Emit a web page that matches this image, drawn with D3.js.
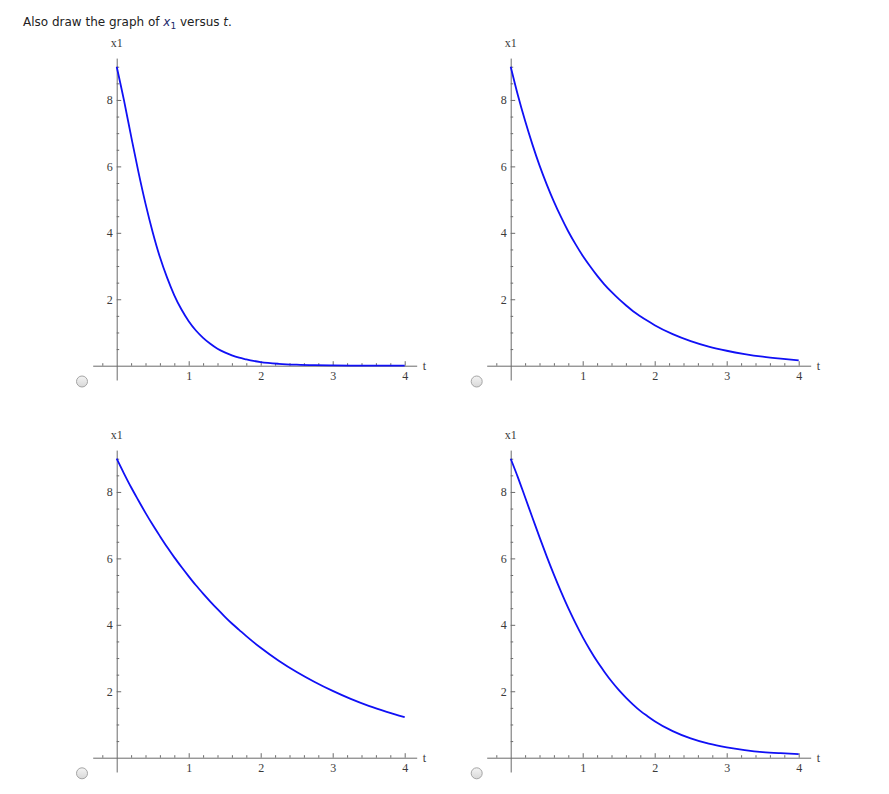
<!DOCTYPE html>
<html>
<head>
<meta charset="utf-8">
<script src="https://cdn.jsdelivr.net/npm/d3@7"></script>
<style>
  html, body { margin: 0; padding: 0; background: #fff; }
  svg { display: block; }
</style>
</head>
<body>
<svg id="chart" width="889" height="794"></svg>
<script>
// ---- data ----
const tValues = [0, 0.1, 0.2, 0.3, 0.4, 0.5, 0.6, 0.7, 0.8, 0.9, 1.0,
                 1.1, 1.2, 1.3, 1.4, 1.5, 1.6, 1.7, 1.8, 1.9, 2.0,
                 2.25, 2.5, 2.75, 3.0, 3.25, 3.5, 3.75, 4.0];
// top-left option
const x1OptionA = [9, 8.00, 6.91, 5.85, 4.88, 4.02, 3.27, 2.65, 2.12, 1.69, 1.34,
                   1.06, 0.84, 0.66, 0.51, 0.40, 0.31, 0.24, 0.19, 0.145, 0.11,
                   0.058, 0.03, 0.015, 0.008, 0.004, 0.002, 0.001, 0.0005];
// top-right option
const x1OptionB = [9, 8.14, 7.37, 6.67, 6.03, 5.46, 4.94, 4.47, 4.04, 3.66, 3.31,
                   3.00, 2.71, 2.45, 2.22, 2.01, 1.82, 1.64, 1.49, 1.35, 1.22,
                   0.95, 0.74, 0.575, 0.45, 0.35, 0.27, 0.21, 0.16];
// bottom-left option
const x1OptionC = [9, 8.56, 8.14, 7.75, 7.37, 7.01, 6.67, 6.34, 6.03, 5.74, 5.46,
                   5.19, 4.94, 4.70, 4.47, 4.25, 4.04, 3.85, 3.66, 3.48, 3.31,
                   2.92, 2.58, 2.28, 2.01, 1.77, 1.56, 1.38, 1.22];
// bottom-right option
const x1OptionD = [9, 8.44, 7.84, 7.24, 6.64, 6.06, 5.51, 4.99, 4.50, 4.05, 3.63,
                   3.25, 2.90, 2.59, 2.30, 2.04, 1.81, 1.60, 1.41, 1.25, 1.10,
                   0.80, 0.58, 0.42, 0.31, 0.23, 0.17, 0.135, 0.11];

const tMajorTicks = [1, 2, 3, 4];
const tMinorTicks = [-0.2, 0.2, 0.4, 0.6, 0.8, 1.2, 1.4, 1.6, 1.8, 2.2, 2.4, 2.6, 2.8,
                     3.2, 3.4, 3.6, 3.8];
const x1MajorTicks = [2, 4, 6, 8];
const x1MinorTicks = [0.5, 1, 1.5, 2.5, 3, 3.5, 4.5, 5, 5.5, 6.5, 7, 7.5, 8.5, 9];

const titleParts = ["Also draw the graph of ", "x", "1", " versus ", "t", "."];
const axisLabelY = "x1";
const axisLabelX = "t";

// ---- layout ----
const svg = d3.select("#chart");
const panels = [
  { values: x1OptionA, ox: 116.7, oy: 365.7, radio: [82, 381.5] },
  { values: x1OptionB, ox: 510.7, oy: 365.7, radio: [476.7, 381.5] },
  { values: x1OptionC, ox: 116.7, oy: 757.7, radio: [82, 773.3] },
  { values: x1OptionD, ox: 510.7, oy: 757.7, radio: [476.7, 773.3] }
];
const pxPerT = 72;
const pxPerX1 = 33.22;
const tMin = -1 / 3, tMax = 4 + 1 / 6;
const yMin = -0.43, yMax = 9.26;

// title
const title = svg.append("text")
  .attr("x", 23).attr("y", 26)
  .attr("font-family", "DejaVu Sans, Verdana, sans-serif")
  .attr("font-size", 12)
  .attr("fill", "#222");
title.append("tspan").text(titleParts[0]);
title.append("tspan").attr("font-style", "italic").attr("fill", "#1c2a6b").text(titleParts[1]);
title.append("tspan").attr("font-size", 9).attr("dy", 3).attr("fill", "#1c2a6b").text(titleParts[2]);
title.append("tspan").attr("dy", -3).text(titleParts[3]);
title.append("tspan").attr("font-style", "italic").text(titleParts[4]);
title.append("tspan").text(titleParts[5]);

// radio gradient
const defs = svg.append("defs");
const grad = defs.append("linearGradient").attr("id", "radioGrad")
  .attr("x1", "0").attr("y1", "0").attr("x2", "0").attr("y2", "1");
grad.append("stop").attr("offset", "0%").attr("stop-color", "#f4f4f4");
grad.append("stop").attr("offset", "100%").attr("stop-color", "#d8d8d8");

const axisColor = "#6b6b6b";
const labelColor = "#3a3a3a";

panels.forEach(p => {
  const x = d3.scaleLinear().domain([tMin, tMax])
    .range([p.ox + tMin * pxPerT, p.ox + tMax * pxPerT]);
  const y = d3.scaleLinear().domain([yMin, yMax])
    .range([p.oy - yMin * pxPerX1, p.oy - yMax * pxPerX1]);

  const g = svg.append("g");

  // x axis (ticks point up, labels below)
  const xAxisG = g.append("g").attr("transform", `translate(0,${y(0)})`);
  xAxisG.call(d3.axisBottom(x).tickValues(tMinorTicks).tickSizeInner(-2.5)
      .tickSizeOuter(0).tickFormat(""));
  xAxisG.append("g").call(d3.axisBottom(x).tickValues(tMajorTicks).tickSizeInner(-4.5)
      .tickSizeOuter(0).tickPadding(6).tickFormat(d3.format("d")))
    .call(a => a.select(".domain").remove());

  // y axis (ticks point right, labels left)
  const yAxisG = g.append("g").attr("transform", `translate(${x(0)},0)`);
  yAxisG.call(d3.axisLeft(y).tickValues(x1MinorTicks).tickSizeInner(-2.5)
      .tickSizeOuter(0).tickFormat(""));
  yAxisG.append("g").call(d3.axisLeft(y).tickValues(x1MajorTicks).tickSizeInner(-4.5)
      .tickSizeOuter(0).tickPadding(4).tickFormat(d3.format("d")))
    .call(a => a.select(".domain").remove());

  g.selectAll(".domain").attr("stroke", axisColor).attr("stroke-width", 1);
  g.selectAll(".tick line").attr("stroke", axisColor).attr("stroke-width", 1);
  g.selectAll(".tick text")
    .attr("font-family", "Liberation Serif, Times New Roman, serif")
    .attr("font-size", 12)
    .attr("fill", labelColor);

  // axis labels
  g.append("text")
    .attr("x", x(0)).attr("y", y(yMax) - 11)
    .attr("text-anchor", "middle")
    .attr("font-family", "Liberation Serif, Times New Roman, serif")
    .attr("font-size", 12).attr("fill", labelColor)
    .text(axisLabelY);
  g.append("text")
    .attr("x", x(tMax) + 6).attr("y", y(0) + 4)
    .attr("font-family", "Liberation Serif, Times New Roman, serif")
    .attr("font-size", 12).attr("fill", labelColor)
    .text(axisLabelX);

  // curve
  const line = d3.line()
    .x((d, i) => x(tValues[i]))
    .y(d => y(d))
    .curve(d3.curveMonotoneX);
  g.append("path")
    .datum(p.values)
    .attr("d", line)
    .attr("fill", "none")
    .attr("stroke", "#1010f5")
    .attr("stroke-width", 1.8)
    .attr("stroke-linejoin", "round");

  // radio button
  svg.append("circle")
    .attr("cx", p.radio[0]).attr("cy", p.radio[1]).attr("r", 5.5)
    .attr("fill", "url(#radioGrad)")
    .attr("stroke", "#a5a5a5").attr("stroke-width", 1);
});
</script>
</body>
</html>
